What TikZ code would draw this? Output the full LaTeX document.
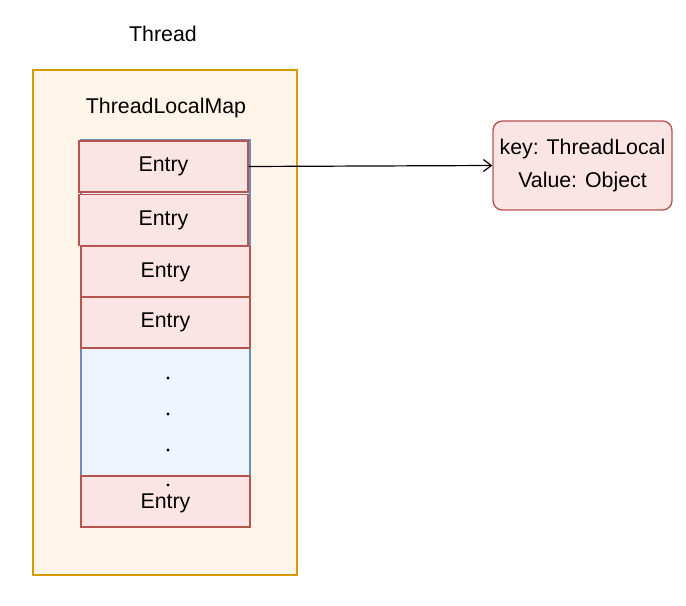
\documentclass[tikz,border=0pt]{standalone}
\usepackage{fontspec}
\setmainfont{Liberation Sans}
\usepackage{tikz}
\usetikzlibrary{arrows.meta}

\definecolor{thrdline}{HTML}{D79B00}
\definecolor{thrdfill}{HTML}{FFF4E8}
\definecolor{mapline}{HTML}{6C8EBF}
\definecolor{mapfill}{HTML}{EEF4FD}
\definecolor{entline}{HTML}{B85450}
\definecolor{entfill}{HTML}{FBE5E4}

\tikzset{
  entry/.style={draw=entline, fill=entfill, line width=1pt, minimum width=126.75pt, minimum height=38.25pt, font=\fontsize{16}{19}\selectfont},
  label/.style={font=\fontsize{16}{19}\selectfont}
}

\begin{document}
\begin{tikzpicture}[x=0.75pt, y=-0.75pt]
    \useasboundingbox (0,0) rectangle (686,606);
    \node[draw=thrdline, fill=thrdfill, line width=1pt, minimum width=198pt, minimum height=378.75pt] (thread) at (165,322.5) {};
    \node[label] (threadlbl) at (163,34) {Thread};
    \node[label] (maplbl) at (166,108) {ThreadLocalMap};
    \node[draw=mapline, fill=mapfill, line width=1pt, minimum width=126.75pt, minimum height=288pt] (map) at (165.5,332) {};
    \node[entry] (e1) at (163.5,166.5) {Entry};
    \node[entry] (e2) at (163.5,220) {Entry};
    \node[entry] (e3) at (165.5,272) {Entry};
    \node[entry] (e4) at (165.5,322.5) {Entry};
    \node[entry, text depth=-3pt] (e5) at (165.5,501.5) {Entry};
    \foreach \i/\y in {1/378,2/414,3/450,4/485}
        \fill (168,\y) circle (1.3pt) coordinate (dot\i);
    \node[draw=entline, fill=entfill, line width=1pt, rounded corners=7pt, minimum width=134.25pt, minimum height=66.75pt, align=center, label, inner sep=1pt] (kv) at (582.5,165.5) {key: ThreadLocal\\[6pt]Value: Object};
    \draw[-{Straight Barb[length=6pt,width=9pt]}, line width=0.9pt] (e1.east) -- (kv.west);
\end{tikzpicture}
\end{document}
